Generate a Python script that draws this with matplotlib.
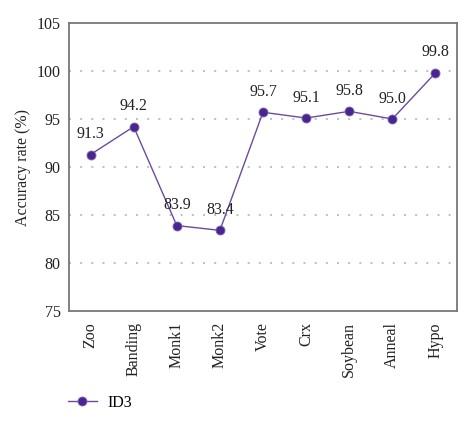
import matplotlib
matplotlib.use('Agg')
import matplotlib.pyplot as plt

datasets = ['Zoo', 'Banding', 'Monk1', 'Monk2', 'Vote', 'Crx', 'Soybean', 'Anneal', 'Hypo']
id3_accuracy = [91.3, 94.2, 83.9, 83.4, 95.7, 95.1, 95.8, 95.0, 99.8]
y_ticks = [75, 80, 85, 90, 95, 100, 105]
grid_levels = [80, 85, 90, 95, 100]

plt.rcParams['font.family'] = ['Liberation Serif', 'DejaVu Serif']

line_color = '#6a4c9c'
marker_color = '#4a2590'

fig = plt.figure(figsize=(4.74, 4.25), dpi=100)
ax = fig.add_axes([69 / 474, 1 - 311 / 425, 388 / 474, 288 / 425])

x = list(range(len(datasets)))
line, = ax.plot(x, id3_accuracy, color=line_color, linewidth=1.0,
                marker='o', markersize=6.5, markerfacecolor=marker_color,
                markeredgecolor='#7d6bb5', markeredgewidth=0.6, label='ID3', zorder=3)

for xi, v in zip(x, id3_accuracy):
    ax.annotate('{:.1f}'.format(v), (xi, v), xytext=(0, 9), textcoords='offset points',
                ha='center', va='bottom', fontsize=11.5, color='#222222')

for g in grid_levels:
    ax.axhline(g, color='#b5b5b5', linestyle=(0, (1.2, 5.5)), linewidth=1.2, zorder=1)

ax.set_xlim(-0.5, 8.5)
ax.set_ylim(75, 105)
ax.set_yticks(y_ticks)
ax.set_xticks(x)
ax.set_xticklabels(datasets, rotation=90)
ax.tick_params(length=0, labelsize=11.5, colors='#222222')
ax.tick_params(axis='x', pad=8)
ax.tick_params(axis='y', pad=6)
ax.set_ylabel('Accuracy rate (%)', fontsize=11.5, color='#222222')

for spine in ax.spines.values():
    spine.set_color('#777777')
    spine.set_linewidth(1.3)

fig.legend(handles=[line], loc='center left', bbox_to_anchor=(68 / 474, 1 - 403 / 425),
           frameon=False, fontsize=11.5, handlelength=1.8, handletextpad=0.7,
           borderpad=0, borderaxespad=0)

fig.savefig('out.png', dpi=100)
